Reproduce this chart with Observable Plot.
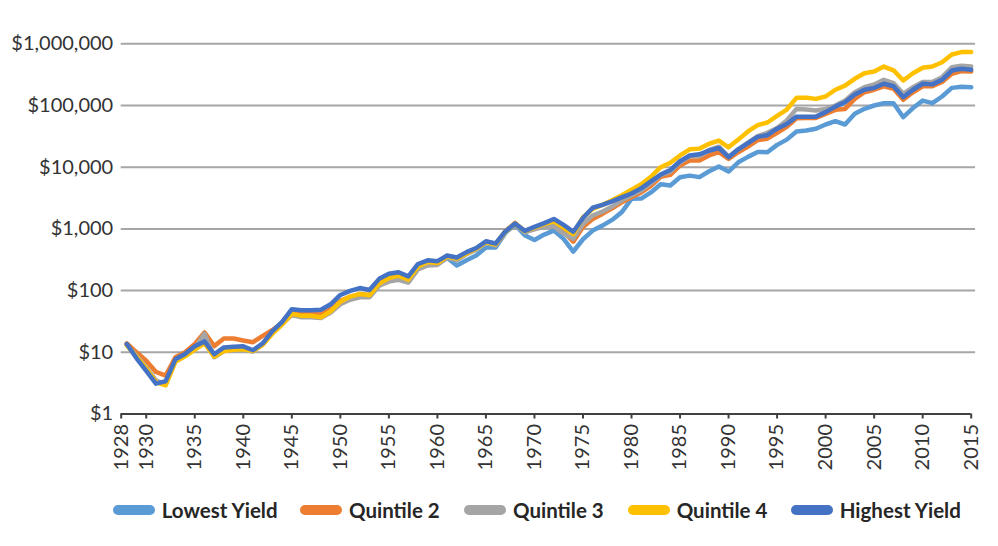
<!DOCTYPE html>
<html>
<head>
<meta charset="utf-8">
<script src="https://cdn.jsdelivr.net/npm/d3@7"></script>
<script src="https://cdn.jsdelivr.net/npm/@observablehq/plot@0.6"></script>
<style>
  html, body { margin: 0; padding: 0; background: #fff; }
  #wrap { position: relative; width: 998px; height: 546px; overflow: hidden; font-family: Lato, "Open Sans", sans-serif; }
  #legend { position: absolute; top: 497px; left: 0; width: 998px; height: 26px; }
  .item { position: absolute; top: 0; display: flex; align-items: center; height: 26px; }
  .sw { width: 42px; height: 10px; border-radius: 5px; margin-right: 7px; }
  .lab { font-size: 20.5px; font-weight: 700; color: #262626; white-space: nowrap; }
</style>
</head>
<body>
<div id="wrap">
  <div id="chart"></div>
  <div id="legend"></div>
</div>
<script>
// ---- data ----
const years = d3.range(1928, 2016);
const seriesNames = ["Lowest Yield", "Quintile 2", "Quintile 3", "Quintile 4", "Highest Yield"];
const seriesColors = ["#5B9BD5", "#ED7D31", "#A5A5A5", "#FFC000", "#4472C4"];

const lowestYield = [
  13.5, 8.5, 5.3, 3.2, 3.3, 7.5, 9, 12, 17, 9,
  11, 11.5, 11.5, 10.5, 13.5, 21, 29, 41, 38, 38,
  37, 45, 62, 73, 80, 80, 125, 145, 155, 140,
  230, 265, 270, 340, 255, 310, 370, 500, 500, 860,
  1180, 790, 660, 810, 940, 690, 430, 680, 940, 1130,
  1400, 1870, 3070, 3100, 3900, 5300, 5050, 6850, 7300, 6900,
  8600, 10300, 8500, 12000, 14700, 17700, 17500, 23000, 28000, 38000,
  39300, 41900, 49200, 55600, 49200, 73300, 88400, 100000, 109000, 109000,
  64600, 91000, 120000, 109000, 140000, 193000, 201000, 197000
];
const quintile2 = [
  14, 10, 7.3, 4.8, 4.2, 8.3, 10, 13.7, 21, 12.6,
  16.7, 16.7, 15.5, 14.6, 18.5, 23, 30, 43, 42, 42,
  41, 50, 68, 79, 87, 85, 130, 155, 170, 150,
  240, 280, 280, 360, 335, 410, 480, 610, 560, 920,
  1250, 900, 1000, 1150, 1200, 900, 620, 1070, 1450, 1750,
  2150, 2700, 3250, 3900, 5000, 7000, 7500, 10700, 12800, 12800,
  15500, 17500, 13600, 17500, 21600, 27500, 29000, 36000, 45000, 62000,
  63000, 63000, 73000, 85000, 88000, 128000, 164000, 180000, 205000, 187000,
  124000, 164000, 205000, 205000, 240000, 327000, 360000, 355000
];
const quintile3 = [
  13, 8.8, 5.7, 3.5, 3.0, 7.3, 8.8, 11.5, 20, 8.3,
  10.5, 10.9, 11, 10.3, 13.5, 21, 29, 40, 37, 37,
  36, 44, 60, 71, 78, 78, 120, 140, 150, 135,
  220, 255, 260, 340, 310, 390, 460, 590, 540, 880,
  1200, 880, 980, 1080, 1100, 840, 690, 1200, 1650, 1900,
  2300, 2900, 3500, 4200, 5500, 7400, 8500, 12000, 15000, 15200,
  19000, 21500, 14800, 19500, 25000, 32000, 36000, 43000, 57000, 88000,
  86000, 83000, 88000, 100000, 120000, 164000, 198000, 219000, 261000, 231000,
  155000, 198000, 240000, 240000, 288000, 417000, 440000, 428000
];
const quintile4 = [
  13, 8.5, 5.5, 3.3, 2.9, 7, 8.6, 11, 14, 8.5,
  10.5, 11, 11.2, 10.5, 13.2, 20, 28, 42, 39, 39,
  37, 46, 66, 80, 88, 84, 130, 160, 175, 150,
  245, 290, 280, 355, 330, 400, 480, 610, 560, 900,
  1220, 920, 1050, 1200, 1330, 1050, 820, 1550, 2100, 2450,
  2900, 3500, 4300, 5300, 7000, 10000, 11800, 15500, 19500, 20000,
  24000, 27000, 21000, 28000, 38000, 48000, 53000, 68000, 86000, 133000,
  133000, 128000, 140000, 180000, 210000, 271000, 334000, 355000, 428000, 372000,
  254000, 334000, 408000, 428000, 503000, 670000, 733000, 733000
];
const highestYield = [
  13.6, 8, 5, 3.1, 3.4, 7.7, 9.4, 12.5, 15, 9.3,
  12, 12.3, 12.5, 10.8, 14, 22, 31, 50, 48, 48,
  49, 60, 85, 99, 110, 102, 155, 187, 198, 170,
  270, 310, 300, 370, 345, 420, 490, 630, 580, 910,
  1220, 930, 1080, 1240, 1450, 1160, 900, 1500, 2200, 2450,
  2800, 3250, 3750, 4550, 5900, 7600, 9000, 12500, 15500, 16200,
  18500, 20500, 14500, 19500, 24500, 31000, 33000, 42000, 50000, 66000,
  66000, 66000, 78000, 96000, 113000, 151000, 180000, 193000, 225000, 205000,
  136000, 180000, 225000, 220000, 261000, 369000, 393000, 380000
];

const yTicks = [1, 10, 100, 1000, 10000, 100000, 1000000];
const xTickLabels = [1928, 1930, 1935, 1940, 1945, 1950, 1955, 1960, 1965, 1970, 1975, 1980, 1985, 1990, 1995, 2000, 2005, 2010, 2015];

// ---- build table ----
const allSeries = [lowestYield, quintile2, quintile3, quintile4, highestYield];
const data = [];
allSeries.forEach((vals, i) => {
  vals.forEach((v, j) => data.push({series: seriesNames[i], year: years[j], value: v}));
});

const xStart = 1927.42; // axis begins a little before the first year
const xTickPos = xTickLabels.map(t => t === 1928 ? xStart : t);
const fmtDollar = d3.format("$,");

const chart = Plot.plot({
  width: 998,
  height: 482,
  marginLeft: 120.7,
  marginRight: 27.3,
  marginTop: 43.3,
  marginBottom: 68.5,
  style: {fontFamily: "Lato, 'Open Sans', sans-serif", fontSize: "20px", color: "#404040", background: "#fff", overflow: "visible"},
  x: {domain: [xStart, 2015]},
  y: {type: "log", domain: [1, 1000000]},
  color: {domain: seriesNames, range: seriesColors},
  marks: [
    Plot.ruleY(yTicks.slice(1), {stroke: "#A6A6A6", strokeWidth: 2, x1: xStart, x2: 2015.45}),
    Plot.axisY({ticks: yTicks, tickFormat: fmtDollar, tickSize: 0, tickPadding: 8, label: null, fontSize: 20, fill: "#333"}),
    Plot.axisX({ticks: xTickPos, tickFormat: d => String(Math.ceil(d)), tickRotate: -90, tickSize: 5, tickPadding: 5, label: null, fontSize: 20, fill: "#333", stroke: "#404040", strokeWidth: 2}),
    Plot.line(data, {x: "year", y: "value", z: "series", stroke: "series", strokeWidth: 4.5, strokeLinejoin: "round", strokeLinecap: "round"}),
    Plot.ruleY([1], {stroke: "#404040", strokeWidth: 2})
  ]
});
document.getElementById("chart").appendChild(chart);

// ---- legend ----
const legendLeft = [112.7, 300, 464, 627.7, 790.7];
const legend = document.getElementById("legend");
seriesNames.forEach((name, i) => {
  const item = document.createElement("div");
  item.className = "item";
  item.style.left = legendLeft[i] + "px";
  const sw = document.createElement("div");
  sw.className = "sw";
  sw.style.background = seriesColors[i];
  const lab = document.createElement("span");
  lab.className = "lab";
  lab.textContent = name;
  item.appendChild(sw);
  item.appendChild(lab);
  legend.appendChild(item);
});
</script>
</body>
</html>
